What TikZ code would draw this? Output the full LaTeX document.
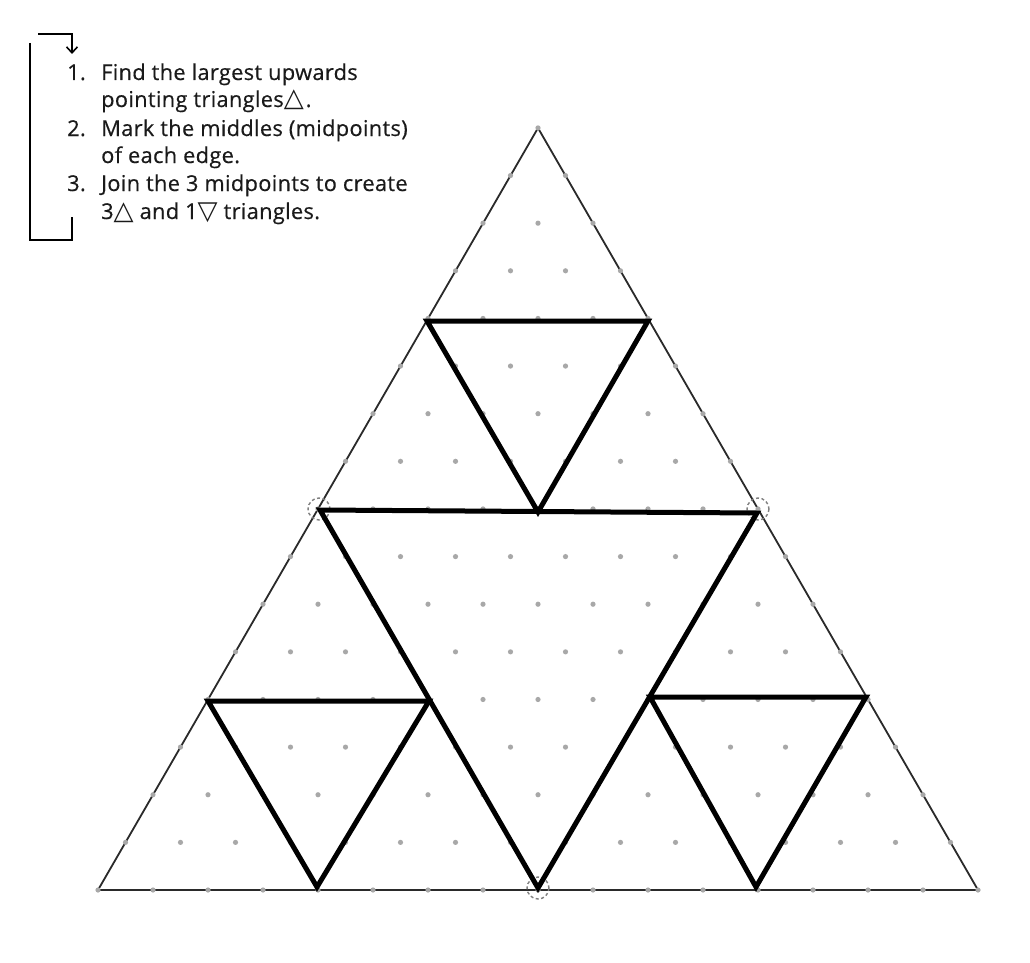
\documentclass[tikz,border=0pt]{standalone}
\usepackage{fontspec}
\setmainfont{Open Sans}[FakeBold=0.4, LetterSpace=1.5]
\newfontfamily\symfont{DejaVu Sans}
\usetikzlibrary{arrows.meta}
\definecolor{dotc}{HTML}{A8A8A8}
\definecolor{edgec}{HTML}{2A2A2A}
\definecolor{txtc}{HTML}{1A1A1A}
\tikzset{
  outline/.style={draw=edgec, line width=1.8pt, line join=miter},
  thickline/.style={draw=black, line width=5pt, line join=miter},
  markcirc/.style={draw=gray, dashed, dash pattern=on 3pt off 2.5pt, line width=1.4pt},
  bracket/.style={draw=black, line width=1.6pt},
  txt/.style={anchor=base west, inner sep=0pt, text=txtc, font=\fontsize{21.8}{24}\selectfont},
}
\newcommand{\tri}{{\symfont\fontsize{26}{24}\selectfont\char"25B3}}
\newcommand{\itri}{{\symfont\fontsize{26}{24}\selectfont\char"25BD}}
\begin{document}
\begin{tikzpicture}[x=1pt,y=-1pt]
\useasboundingbox[fill=white] (0,0) rectangle (1030,963);
% main triangle
\coordinate (A) at (98,890);
\coordinate (B) at (978,890);
\coordinate (C) at (538,128);
\draw[outline] (A) -- (B) -- (C) -- cycle;
% lattice dots
\foreach \r in {0,...,16}{
  \pgfmathtruncatemacro\n{16-\r}
  \foreach \i in {0,...,\n}{
    \fill[dotc] ({98+55*(\i+\r/2)},{890-47.63*\r}) circle (2.6);
  }
}
% midpoint marks
\coordinate (ML) at (319,509);
\coordinate (MR) at (758,509);
\coordinate (MB) at (538,888);
\foreach \p in {ML,MR,MB}{ \draw[markcirc] (\p) circle (11); }
% thick triangles
\coordinate (T1) at (427,321);
\coordinate (T2) at (648,321);
\coordinate (T3) at (538,512);
\draw[thickline] (T1) -- (T2) -- (T3) -- cycle;
\coordinate (G1) at (320,510);
\coordinate (G2) at (757,513);
\coordinate (G3) at (538,888);
\draw[thickline] (G1) -- (G2) -- (G3) -- cycle;
\coordinate (L1) at (208,701);
\coordinate (L2) at (429,701);
\coordinate (L3) at (317,887);
\draw[thickline] (L1) -- (L2) -- (L3) -- cycle;
\coordinate (R1) at (650,697);
\coordinate (R2) at (866,697);
\coordinate (R3) at (756,887);
\draw[thickline] (R1) -- (R2) -- (R3) -- cycle;
% bracket arrow
\coordinate (b0) at (38,34);
\coordinate (b1) at (72,34);
\coordinate (b2) at (72,54);
\draw[bracket, -{Straight Barb[length=6pt,width=11pt]}] (b0) -- (b1) -- (b2);
\coordinate (c0) at (30,43);
\coordinate (c1) at (30,240);
\coordinate (c2) at (72,240);
\coordinate (c3) at (72,217);
\draw[bracket] (c0) -- (c1) -- (c2) -- (c3);
% text
\node[txt] (n1) at (67,80) {1.};
\node[txt] (t1) at (101,80) {Find the largest upwards};
\node[txt] (t2) at (101,107) {pointing triangles\tri\kern2pt.};
\node[txt] (n2) at (67,136) {2.};
\node[txt] (t3) at (101,136) {Mark the middles (midpoints)};
\node[txt] (t4) at (101,163) {of each edge.};
\node[txt] (n3) at (67,191) {3.};
\node[txt] (t5) at (101,191) {Join the 3 midpoints to create};
\node[txt] (t6) at (101,219) {3\tri\ and 1\itri\ triangles.};
\end{tikzpicture}
\end{document}
